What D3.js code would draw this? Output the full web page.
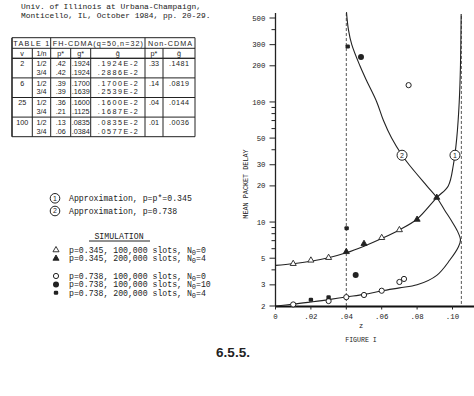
<!DOCTYPE html>
<html>
<head>
<meta charset="utf-8">
<script src="https://cdn.jsdelivr.net/npm/d3@7/dist/d3.min.js"></script>
<style>
  body { margin: 0; background: #fff; }
  svg { display: block; }
  text { fill: #222; }
</style>
</head>
<body>
<svg id="page" width="474" height="396"></svg>
<script>
// --- table values (Table 1) ---
const tableV = ["2", "6", "25", "100"];
const tableN = ["1/2", "3/4"];
const fhP = [".42", ".42", ".39", ".39", ".36", ".21", ".13", ".06"];
const fhG = [".1924", ".1924", ".1700", ".1639", ".1600", ".1125", ".0835", ".0384"];
const fhGbar = [".1924E-2", ".2886E-2", ".1700E-2", ".2539E-2", ".1600E-2", ".1687E-2", ".0835E-2", ".0577E-2"];
const ncP = [".33", ".14", ".04", ".01"];
const ncG = [".1481", ".0819", ".0144", ".0036"];

// --- chart values: [z, mean packet delay] ---
const approx1 = [[0, 4.36], [0.01, 4.5], [0.02, 4.72], [0.03, 5.05], [0.04, 5.55], [0.05, 6.3],
  [0.06, 7.3], [0.07, 8.6], [0.08, 10.6], [0.0911, 16], [0.0976, 20], [0.1005, 30],
  [0.1024, 50], [0.1038, 100], [0.1045, 200], [0.1049, 540]];
const approx2 = [[0, 2.0], [0.01, 2.07], [0.02, 2.16], [0.03, 2.26], [0.04, 2.38], [0.05, 2.5],
  [0.06, 2.67], [0.07, 2.83], [0.08, 3.0], [0.0911, 3.6], [0.0986, 4.85], [0.1033, 6.2],
  [0.1045, 7.1], [0.1028, 8.4], [0.0995, 10.2], [0.0955, 12.6], [0.0911, 16], [0.0855, 20],
  [0.0755, 30], [0.0715, 36], [0.0656, 50], [0.061, 70], [0.0572, 100], [0.0515, 150],
  [0.0477, 200], [0.0431, 300], [0.0412, 400], [0.0401, 560]];
const simOpenTri = [[0.01, 4.5], [0.02, 4.8], [0.03, 5.05], [0.06, 7.4], [0.07, 8.6]];
const simFillTri = [[0.04, 5.65], [0.05, 6.6], [0.08, 10.5], [0.0911, 16]];
const simOpenCirc = [[0.01, 2.06], [0.03, 2.2], [0.04, 2.37], [0.05, 2.47], [0.06, 2.68],
  [0.07, 3.17], [0.0726, 3.36], [0.0752, 138]];
const simBigDot = [[0.0453, 3.62], [0.0483, 237]];
const simSmallDot = [[0.02, 2.25], [0.03, 2.36], [0.0402, 8.9], [0.0408, 290]];
const asymptotes = [0.04, 0.105];
const yMajor = [2, 3, 5, 10, 20, 30, 50, 100, 200, 300, 500];
const yMinor = [4, 6, 7, 8, 9, 40, 60, 70, 80, 90, 400];
const xTicks = [0, 0.02, 0.04, 0.06, 0.08, 0.10];

const svg = d3.select("#page");
const mono = "'Liberation Mono', 'DejaVu Sans Mono', monospace";
const sans = "'Liberation Sans', Arial, sans-serif";

// reference lines at top
const head = svg.append("g").attr("font-family", mono).attr("font-size", 7.9);
head.append("text").attr("x", 21).attr("y", 8.5).text("Univ. of Illinois at Urbana-Champaign,");
head.append("text").attr("x", 21).attr("y", 18).text("Monticello, IL, October 1984, pp. 20-29.");

// ---------- table ----------
const tbl = svg.append("g").attr("font-family", sans).attr("font-size", 7.2)
  .attr("text-anchor", "middle");
const colX = [12, 32.3, 50.7, 70.7, 90.7, 145, 163, 195];
const colW = [0, 0, 0, 0, 40, 0, 20];   // typed width of the spread-out columns
const rowTop = 37.7, head1 = 48.3, head2 = 58.3, groupH = 19.6;
const bottom = head2 + groupH * tableV.length;
const mid = (i) => (colX[i] + colX[i + 1]) / 2;
const line = (x1, y1, x2, y2, w) => tbl.append("line")
  .attr("x1", x1).attr("y1", y1).attr("x2", x2).attr("y2", y2)
  .attr("stroke", "#222").attr("stroke-width", w || 1);

// horizontal rules
[rowTop, head1, head2, bottom].concat(tableV.map((v, i) => head2 + groupH * i))
  .forEach(yy => line(colX[0], yy, colX[7], yy));
// vertical rules: spanning ones on header row 1
[0, 2, 5, 7].forEach(i => line(colX[i], rowTop, colX[i], bottom, i === 0 ? 1.6 : 1));
[1, 3, 4, 6].forEach(i => line(colX[i], head1, colX[i], bottom));

const cell = (x, y, t, w) => {
  const el = tbl.append("text").attr("x", x).attr("y", y).attr("dy", "0.35em").text(t);
  if (w) el.attr("textLength", w).attr("lengthAdjust", "spacing");
  return el;
};
cell((colX[0] + colX[2]) / 2, 43, "TABLE  1", 36);
cell((colX[2] + colX[5]) / 2, 43, "FH-CDMA(q=50,n=32)", 90);
cell((colX[5] + colX[7]) / 2, 43, "Non-CDMA", 44);
["v", "1/n", "p*", "g*", "\u1E21", "p*", "\u011D"].forEach((t, i) => cell(mid(i), 53, t));

tableV.forEach((v, g) => {
  const top = head2 + groupH * g;
  cell(mid(0), top + 5.3, v);
  cell(mid(5), top + 5.3, ncP[g], colW[5]);
  cell(mid(6), top + 5.3, ncG[g], colW[6]);
  tableN.forEach((n, k) => {
    const r = g * 2 + k, yy = top + 5.3 + k * 8.6;
    cell(mid(1), yy, n, colW[1]);
    cell(mid(2), yy, fhP[r], colW[2]);
    cell(mid(3), yy, fhG[r], colW[3]);
    cell(mid(4), yy, fhGbar[r], colW[4]);
  });
});

// ---------- legend ----------
const leg = svg.append("g").attr("font-family", mono).attr("font-size", 8.2);
function circled(g, cx, cy, label, r, fs) {
  g.append("circle").attr("cx", cx).attr("cy", cy).attr("r", r)
    .attr("fill", "#fff").attr("stroke", "#222").attr("stroke-width", 1);
  g.append("text").attr("x", cx).attr("y", cy).attr("dy", "0.35em")
    .attr("text-anchor", "middle").attr("font-family", sans)
    .attr("font-size", fs).text(label);
}
circled(leg, 55, 198.3, "1", 4.8, 7);
circled(leg, 55, 211, "2", 4.8, 7);
leg.append("text").attr("x", 69).attr("y", 198.3).attr("dy", "0.35em").text("Approximation, p=p*=0.345");
leg.append("text").attr("x", 69).attr("y", 211).attr("dy", "0.35em").text("Approximation, p=0.738");
leg.append("text").attr("x", 119).attr("y", 236.5).attr("dy", "0.35em")
  .attr("text-anchor", "middle").text("SIMULATION");
leg.append("line").attr("x1", 89).attr("x2", 150).attr("y1", 241).attr("y2", 241)
  .attr("stroke", "#222").attr("stroke-width", 1);

const tri = d3.symbol().type(d3.symbolTriangle).size(16);
const simRows = [
  { y: 250, txt: "p=0.345, 100,000 slots, N", n0: "=0", mark: "openTri" },
  { y: 258.5, txt: "p=0.345, 200,000 slots, N", n0: "=4", mark: "fillTri" },
  { y: 276, txt: "p=0.738, 100,000 slots, N", n0: "=0", mark: "openCirc" },
  { y: 284.5, txt: "p=0.738, 100,000 slots, N", n0: "=10", mark: "bigDot" },
  { y: 292.8, txt: "p=0.738, 200,000 slots, N", n0: "=4", mark: "smallDot" }
];

function drawMark(g, kind, cx, cy) {
  if (kind === "openTri" || kind === "fillTri") {
    g.append("path").attr("d", tri).attr("transform", `translate(${cx},${cy})`)
      .attr("fill", kind === "fillTri" ? "#222" : "#fff").attr("stroke", "#222").attr("stroke-width", 0.9);
  } else if (kind === "openCirc") {
    g.append("circle").attr("cx", cx).attr("cy", cy).attr("r", 2.6)
      .attr("fill", "#fff").attr("stroke", "#222").attr("stroke-width", 1);
  } else if (kind === "bigDot") {
    g.append("circle").attr("cx", cx).attr("cy", cy).attr("r", 3).attr("fill", "#222");
  } else {
    g.append("rect").attr("x", cx - 2.2).attr("y", cy - 2).attr("width", 4.4).attr("height", 4)
      .attr("rx", 1.2).attr("fill", "#222");
  }
}

simRows.forEach(r => {
  drawMark(leg, r.mark, 56, r.y);
  const t = leg.append("text").attr("x", 69).attr("y", r.y).attr("dy", "0.35em").text(r.txt);
  t.append("tspan").attr("dy", 2).attr("font-size", 7).text("0");
  t.append("tspan").attr("dy", -2).text(r.n0);
});

// ---------- chart ----------
const x = d3.scaleLinear().domain([0, 0.1]).range([275.5, 452.5]);
const y = d3.scaleLog().domain([2, 500]).range([306, 18]);
const chart = svg.append("g");

// dashed asymptotes
chart.selectAll(".asym").data(asymptotes).join("line")
  .attr("x1", d => x(d)).attr("x2", d => x(d))
  .attr("y1", (d, i) => i === 0 ? y(550) : y(520)).attr("y2", y(2))
  .attr("stroke", "#555").attr("stroke-width", 1).attr("stroke-dasharray", "3,2");

// y axis
const yAxis = chart.append("g").attr("font-family", mono).attr("font-size", 7.4);
yAxis.append("line").attr("x1", x(0)).attr("x2", x(0)).attr("y1", y(550)).attr("y2", y(2))
  .attr("stroke", "#222").attr("stroke-width", 1.3);
yAxis.selectAll(".maj").data(yMajor).join("line")
  .attr("x1", x(0) - 6).attr("x2", x(0)).attr("y1", d => y(d)).attr("y2", d => y(d))
  .attr("stroke", "#222").attr("stroke-width", 1);
yAxis.selectAll(".min").data(yMinor).join("line")
  .attr("x1", x(0) - 4).attr("x2", x(0)).attr("y1", d => y(d)).attr("y2", d => y(d))
  .attr("stroke", "#222").attr("stroke-width", 1);
yAxis.selectAll("text").data(yMajor).join("text")
  .attr("x", 265.5).attr("y", d => y(d)).attr("dy", "0.35em").attr("text-anchor", "end")
  .text(d => d);
chart.append("text").attr("font-family", mono).attr("font-size", 6.8)
  .attr("transform", `translate(246,184) rotate(-90)`).attr("text-anchor", "middle")
  .attr("dy", "0.35em").text("MEAN PACKET DELAY");

// x axis
const xAxis = chart.append("g").attr("font-family", mono).attr("font-size", 7.4);
xAxis.append("line").attr("x1", x(0) - 0.5).attr("x2", 474).attr("y1", y(2) + 0.5).attr("y2", y(2) + 0.5)
  .attr("stroke", "#111").attr("stroke-width", 2);
xAxis.selectAll(".xt").data(xTicks).join("line")
  .attr("x1", d => x(d)).attr("x2", d => x(d)).attr("y1", y(2)).attr("y2", y(2) + 3.5)
  .attr("stroke", "#222").attr("stroke-width", 1);
xAxis.selectAll("text").data(xTicks).join("text")
  .attr("x", d => x(d)).attr("y", 316).attr("dy", "0.35em").attr("text-anchor", "middle")
  .text(d => d === 0 ? "0" : d3.format(".2f")(d).replace(/^0/, ""));
chart.append("text").attr("font-family", mono).attr("font-size", 7).attr("x", 361).attr("y", 326)
  .attr("dy", "0.35em").attr("text-anchor", "middle").text("z");
chart.append("text").attr("font-family", mono).attr("font-size", 6.6).attr("x", 361).attr("y", 340)
  .attr("dy", "0.35em").attr("text-anchor", "middle").text("FIGURE I");

// approximation curves
const curve = d3.line().x(d => x(d[0])).y(d => y(d[1])).curve(d3.curveCatmullRom.alpha(0.5));
[approx1, approx2].forEach(c => chart.append("path").attr("d", curve(c))
  .attr("fill", "none").attr("stroke", "#222").attr("stroke-width", 1.1));

// simulation marks
simOpenTri.forEach(d => drawMark(chart, "openTri", x(d[0]), y(d[1])));
simFillTri.forEach(d => drawMark(chart, "fillTri", x(d[0]), y(d[1])));
simOpenCirc.forEach(d => drawMark(chart, "openCirc", x(d[0]), y(d[1])));
simBigDot.forEach(d => drawMark(chart, "bigDot", x(d[0]), y(d[1])));
simSmallDot.forEach(d => drawMark(chart, "smallDot", x(d[0]), y(d[1])));

// curve labels
circled(chart, x(0.0715), y(36), "2", 5, 7);
circled(chart, x(0.1014), y(36), "1", 5, 7);

// page number
svg.append("text").attr("x", 233).attr("y", 357).attr("text-anchor", "middle")
  .attr("font-family", sans).attr("font-weight", "bold")
  .attr("font-size", 13.5).attr("fill", "#111").text("6.5.5.");
</script>
</body>
</html>
